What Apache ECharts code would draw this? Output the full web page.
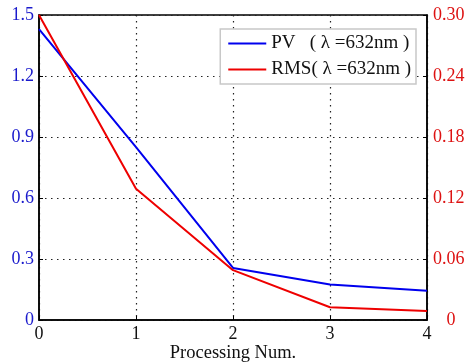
<!DOCTYPE html>
<html><head><meta charset="utf-8">
<script src="https://cdn.jsdelivr.net/npm/echarts@6/dist/echarts.min.js"></script>
<style>html,body{margin:0;padding:0;background:#fff}#c{width:474px;height:363px}</style>
</head><body><div id="c"></div>
<script>
var xValues = [0, 1, 2, 3, 4];
var pvValues = [1.43, 0.85, 0.256, 0.175, 0.144];
var rmsValues = [0.300, 0.129, 0.049, 0.0125, 0.0089];
var pvName = 'PV   ( \u03bb =632nm )';
var rmsName = 'RMS( \u03bb =632nm )';
var xAxisName = 'Processing Num.';

var font = '"Liberation Serif", "Times New Roman", serif';
var chart = echarts.init(document.getElementById('c'));
chart.setOption({
  animation: false,
  backgroundColor: '#fff',
  grid: {left: 39, right: 47, top: 15, bottom: 43, show: true, borderColor: '#000', borderWidth: 1.5,
    containLabel: false, outerBoundsMode: 'none'},
  legend: {
    right: 58, top: 29, orient: 'vertical', icon: 'rect', itemWidth: 38, itemHeight: 2, itemGap: 7,
    backgroundColor: '#fff', borderColor: '#c8c8c8', borderWidth: 1.5, padding: [5, 5, 5, 8],
    textStyle: {fontFamily: font, fontSize: 19, color: '#111'},
    data: [pvName, rmsName]
  },
  xAxis: {
    type: 'value', min: 0, max: 4, interval: 1,
    name: xAxisName, nameLocation: 'middle', nameGap: 23.5, nameMoveOverlap: false,
    nameTextStyle: {fontFamily: font, fontSize: 18.5, color: '#111'},
    axisLine: {lineStyle: {color: '#000', width: 1.5}},
    axisTick: {inside: true, length: 4, lineStyle: {color: '#000'}},
    axisLabel: {fontFamily: font, fontSize: 18, color: '#111', margin: 5},
    splitLine: {show: true, lineStyle: {color: '#222', type: [1.5, 4.5], width: 1.2}}
  },
  yAxis: [{
    type: 'value', min: 0, max: 1.5, interval: 0.3,
    axisLine: {show: true, lineStyle: {color: '#000', width: 1.5}},
    axisTick: {show: true, inside: true, length: 4, lineStyle: {color: '#000'}},
    axisLabel: {fontFamily: font, fontSize: 18, color: '#1a1acc', margin: 5,
      formatter: function (v) { return v === 0 ? '0' : v.toFixed(1); }},
    splitLine: {show: true, lineStyle: {color: '#222', type: [1.5, 4.5], width: 1.2}}
  }, {
    type: 'value', min: 0, max: 0.3, interval: 0.06, position: 'right',
    axisLine: {show: true, lineStyle: {color: '#000', width: 1.5}},
    axisTick: {show: true, inside: true, length: 4, lineStyle: {color: '#000'}},
    axisLabel: {fontFamily: font, fontSize: 18, color: '#dd1111', margin: 6,
      formatter: function (v) { return v === 0 ? '   0' : v.toFixed(2); }},
    splitLine: {show: false}
  }],
  series: [{
    name: pvName, type: 'line', yAxisIndex: 0, symbol: 'none',
    lineStyle: {color: '#0000ee', width: 2}, itemStyle: {color: '#0000ee'},
    data: xValues.map(function (x, i) { return [x, pvValues[i]]; })
  }, {
    name: rmsName, type: 'line', yAxisIndex: 1, symbol: 'none',
    lineStyle: {color: '#ee0000', width: 2}, itemStyle: {color: '#ee0000'},
    data: xValues.map(function (x, i) { return [x, rmsValues[i]]; })
  }]
});
</script></body></html>
